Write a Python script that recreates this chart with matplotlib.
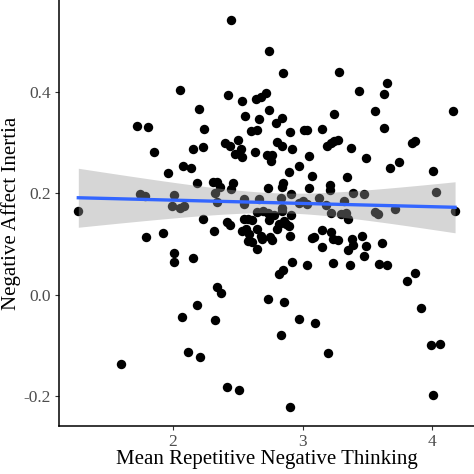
import numpy as np
import matplotlib

matplotlib.use("Agg")
import matplotlib.pyplot as plt

# mean repetitive negative thinking (x) and negative affect inertia (y)
rnt = [
    1.270, 2.450, 2.738, 2.846, 3.280, 2.057, 2.422, 3.437, 3.650, 3.625,
    2.530, 2.638, 2.679, 2.715, 2.201, 2.738, 3.558, 4.162, 2.558, 2.666,
    3.244, 1.720, 1.807, 2.239, 2.604, 2.645, 2.794, 2.841, 2.905, 3.008,
    3.031, 3.149, 3.625, 1.856, 2.152, 2.229, 2.404, 2.440, 2.499, 2.522,
    2.476, 2.532, 2.635, 2.725, 2.763, 2.753, 2.799, 2.838, 2.920, 3.185,
    3.216, 3.244, 3.270, 3.375, 3.846, 3.866, 3.046, 3.488, 3.676, 3.740,
    1.959, 2.075, 2.139, 2.969, 2.897, 3.069, 3.342, 4.008, 2.183, 2.311,
    2.342, 2.465, 2.733, 2.848, 2.841, 3.049, 3.211, 3.211, 2.321, 2.362,
    2.450, 1.748, 1.781, 2.008, 1.995, 2.057, 2.085, 2.337, 2.545, 2.548,
    2.663, 2.830, 2.913, 2.969, 3.000, 3.031, 3.129, 3.180, 3.321, 3.388,
    3.473, 4.028, 3.712, 3.558, 3.578, 4.175, 2.645, 2.697, 2.735, 2.841,
    2.910, 2.843, 3.216, 3.296, 3.332, 2.231, 2.550, 2.576, 2.612, 2.743,
    2.779, 3.347, 2.416, 2.442, 2.650, 2.815, 2.856, 2.871, 2.892, 2.805,
    2.314, 2.535, 2.560, 2.589, 2.676, 2.751, 2.766, 2.905, 3.147, 3.219,
    3.237, 3.270, 3.072, 3.085, 3.152, 3.380, 3.391, 3.455, 3.486, 3.470,
    3.609, 1.923, 1.789, 2.578, 2.612, 2.689, 2.648, 3.347, 2.008, 2.008,
    2.154, 2.918, 3.031, 3.231, 3.362, 3.591, 3.648, 2.851, 2.820, 3.807,
    3.866, 2.337, 2.368, 2.735, 2.856, 2.188, 3.910, 2.067, 2.326, 2.974,
    3.095, 2.830, 3.990, 4.059, 2.118, 2.208, 3.198, 1.596, 2.416, 2.512,
    4.005, 2.900,
]
inertia = [
    0.165, 0.541, 0.481, 0.437, 0.439, 0.403, 0.393, 0.401, 0.418, 0.395,
    0.382, 0.385, 0.390, 0.397, 0.366, 0.365, 0.363, 0.362, 0.352, 0.346,
    0.357, 0.333, 0.331, 0.326, 0.322, 0.324, 0.339, 0.349, 0.320, 0.324,
    0.324, 0.326, 0.328, 0.282, 0.287, 0.292, 0.299, 0.294, 0.306, 0.287,
    0.278, 0.272, 0.281, 0.275, 0.276, 0.264, 0.301, 0.293, 0.288, 0.293,
    0.299, 0.303, 0.306, 0.289, 0.300, 0.304, 0.274, 0.269, 0.249, 0.261,
    0.239, 0.253, 0.249, 0.253, 0.241, 0.234, 0.232, 0.243, 0.221, 0.223,
    0.223, 0.221, 0.211, 0.220, 0.213, 0.211, 0.217, 0.206, 0.201, 0.213,
    0.209, 0.198, 0.195, 0.196, 0.175, 0.170, 0.175, 0.183, 0.188, 0.179,
    0.188, 0.191, 0.198, 0.180, 0.184, 0.178, 0.191, 0.176, 0.184, 0.200,
    0.198, 0.202, 0.169, 0.164, 0.159, 0.165, 0.163, 0.166, 0.161, 0.166,
    0.158, 0.170, 0.161, 0.160, 0.161, 0.149, 0.150, 0.149, 0.147, 0.147,
    0.157, 0.150, 0.143, 0.137, 0.130, 0.139, 0.145, 0.140, 0.135, 0.130,
    0.126, 0.125, 0.129, 0.120, 0.116, 0.113, 0.107, 0.116, 0.128, 0.124,
    0.109, 0.107, 0.111, 0.113, 0.095, 0.109, 0.099, 0.116, 0.096, 0.076,
    0.102, 0.122, 0.114, 0.106, 0.103, 0.109, 0.090, 0.089, 0.082, 0.064,
    0.072, 0.064, 0.058, 0.062, 0.058, 0.060, 0.059, 0.048, 0.041, 0.028,
    0.043, 0.015, 0.003, -0.008, -0.015, -0.020, -0.026, -0.043, -0.049, -0.047,
    -0.055, -0.079, -0.099, -0.097, -0.113, -0.122, -0.115, -0.136, -0.182, -0.188,
    -0.197, -0.222,
]
x_ticks = [2, 3, 4]
y_ticks = [-0.2, 0.0, 0.2, 0.4]

x = np.array(rnt)
y = np.array(inertia)

# linear fit with 95% confidence band (like geom_smooth(method = "lm"))
slope, intercept = np.polyfit(x, y, 1)
n = len(x)
resid = y - (intercept + slope * x)
s_err = np.sqrt(np.sum(resid ** 2) / (n - 2))
grid = np.linspace(x.min(), x.max(), 80)
fit = intercept + slope * grid
se_fit = s_err * np.sqrt(1 / n + (grid - x.mean()) ** 2 / np.sum((x - x.mean()) ** 2))
t_crit = 1.973

fig = plt.figure(figsize=(4.74, 4.74), dpi=100)
ax = fig.add_axes([0.125, 0.101, 0.875, 0.899])

ax.scatter(x, y, s=46, color="black", linewidths=0, zorder=2)
ax.fill_between(grid, fit - t_crit * se_fit, fit + t_crit * se_fit,
                color="#999999", alpha=0.4, linewidth=0, zorder=3)
ax.plot(grid, fit, color="#3366FF", linewidth=2.4, zorder=4)

ax.set_xlim(1.123, 4.321)
ax.set_ylim(-0.259, 0.581)
ax.set_xticks(x_ticks)
ax.set_xticklabels([str(v) for v in x_ticks])
ax.set_yticks(y_ticks)
ax.set_yticklabels([f"{v:.1f}" for v in y_ticks])

ax.spines[["top", "right"]].set_visible(False)
for side in ("left", "bottom"):
    ax.spines[side].set_linewidth(1.1)
ax.tick_params(length=3, width=0.8, color="#333333", labelcolor="#4D4D4D",
               labelsize=12.5, pad=3)
for label in ax.get_xticklabels() + ax.get_yticklabels():
    label.set_fontfamily("Liberation Serif")

ax.set_xlabel("Mean Repetitive Negative Thinking", fontfamily="Liberation Serif",
              fontsize=15, labelpad=0)
ax.set_ylabel("Negative Affect Inertia", fontfamily="Liberation Serif",
              fontsize=15, labelpad=2)

fig.savefig("out.png", dpi=100)
